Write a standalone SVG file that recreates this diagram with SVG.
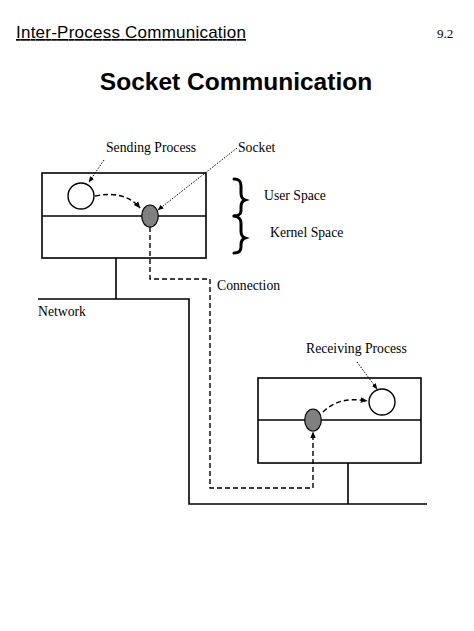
<svg xmlns="http://www.w3.org/2000/svg" width="474" height="631" viewBox="0 0 474 631">
<style>
.box{fill:none;stroke:#000;stroke-width:1.6}
.ln{fill:none;stroke:#000;stroke-width:1.6}
.dash{fill:none;stroke:#000;stroke-width:1.4;stroke-dasharray:5,3}
.dot{fill:none;stroke:#000;stroke-width:1;stroke-dasharray:1.5,1.5}
.proc{fill:#fff;stroke:#000;stroke-width:1.4}
.sock{fill:#808080;stroke:#000;stroke-width:1.2}
.lbl{font-family:"Liberation Serif",serif;font-size:13.7px;fill:#000}
.brace{fill:none;stroke:#000;stroke-width:3;stroke-linecap:round}
</style>
<defs>
<marker id="ah" viewBox="0 0 10 10" refX="9" refY="5" markerWidth="7" markerHeight="7" orient="auto" markerUnits="userSpaceOnUse">
<path d="M0,1 L10,5 L0,9 z" fill="#000"/>
</marker>
<marker id="ahs" viewBox="0 0 10 10" refX="9" refY="5" markerWidth="6" markerHeight="6" orient="auto" markerUnits="userSpaceOnUse">
<path d="M0,1 L10,5 L0,9 z" fill="#000"/>
</marker>
</defs>
<rect width="474" height="631" fill="#fff"/>
<g id="header">
<text x="16" y="38" font-family="Liberation Sans,Arial,sans-serif" font-size="17" textLength="230" text-decoration="underline">Inter-Process Communication</text>
<text x="437" y="38" font-family="Liberation Serif,serif" font-size="13">9.2</text>
<text x="236" y="90" text-anchor="middle" font-family="Liberation Sans,Arial,sans-serif" font-size="24.5" font-weight="bold">Socket Communication</text>
</g>
<g id="network">
<polyline class="ln" points="38,299 189,299 189,504 427,504"/>
<text class="lbl" x="38" y="316">Network</text>
</g>
<g id="sender">
<rect class="box" x="42" y="173" width="164" height="85"/>
<line class="ln" x1="42" y1="216" x2="206" y2="216"/>
<line class="ln" x1="116" y1="258" x2="116" y2="299"/>
<circle class="proc" cx="81" cy="196" r="13"/>
<ellipse class="sock" cx="150" cy="216" rx="8.3" ry="11"/>
</g>
<g id="receiver">
<rect class="box" x="258" y="378" width="163" height="85"/>
<line class="ln" x1="258" y1="420" x2="421" y2="420"/>
<line class="ln" x1="348" y1="463" x2="348" y2="504"/>
<circle class="proc" cx="382" cy="402" r="13"/>
<ellipse class="sock" cx="313" cy="420" rx="8.3" ry="11"/>
</g>
<g id="labels">
<text class="lbl" x="106" y="152">Sending Process</text>
<text class="lbl" x="238" y="152">Socket</text>
<text class="lbl" x="264" y="200">User Space</text>
<text class="lbl" x="270" y="237">Kernel Space</text>
<text class="lbl" x="217" y="290">Connection</text>
<text class="lbl" x="306" y="353">Receiving Process</text>
<path class="brace" d="M234,179 C239,179 241,181 241,186 L241,193 C241,197 242,199 245,200 C242,201 241,203 241,207 L241,211 C241,214 238,216 234,216"/>
<path class="brace" d="M234,216 C238,216 241,219 241,223 L241,231 C241,235 242,237 245,238 C242,239 241,241 241,245 L241,247 C241,251 239,253 234,253"/>
</g>
<g id="connectors">
<path class="dash" d="M95,196 C115,192 130,196 140,208" marker-end="url(#ah)"/>
<path class="dash" d="M323,412 C335,400 350,398 367,401" marker-end="url(#ah)"/>
<polyline class="dash" points="150,227 150,279 210,279 210,488 313,488 313,432" marker-end="url(#ah)"/>
<line class="dot" x1="104" y1="160" x2="89" y2="182" marker-end="url(#ahs)"/>
<line class="dot" x1="237" y1="148" x2="158" y2="210" marker-end="url(#ahs)"/>
<line class="dot" x1="357" y1="362" x2="377" y2="389" marker-end="url(#ahs)"/>
</g>
</svg>
